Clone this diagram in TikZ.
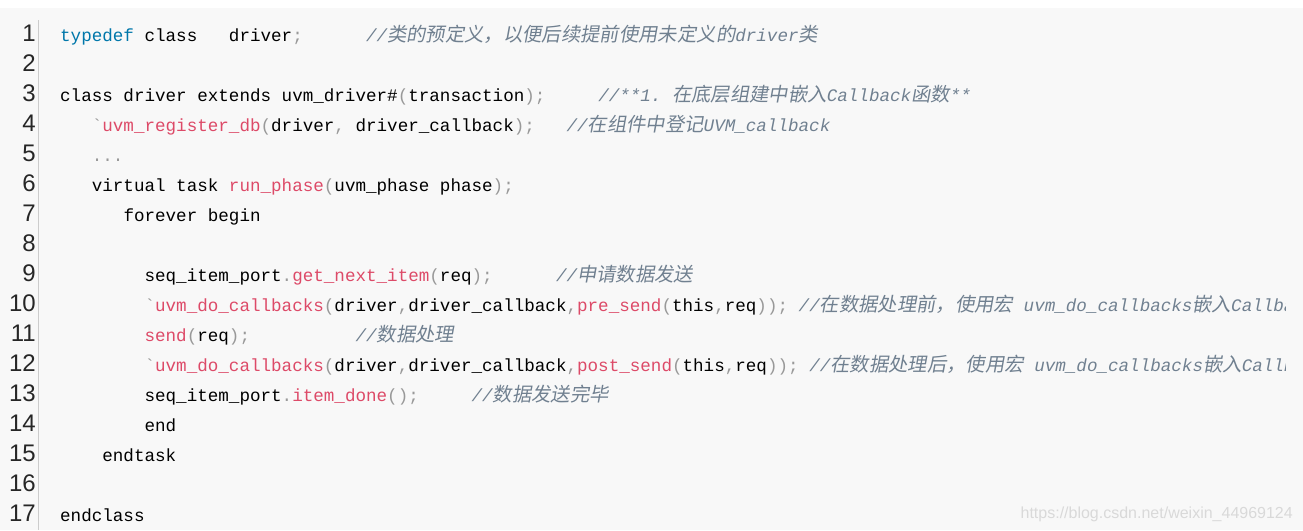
\documentclass[tikz,border=0pt]{standalone}
\usepackage{fontspec}
\setmainfont{Liberation Sans}
\setmonofont{Liberation Mono}
\newfontfamily\cjkfont{Noto Sans CJK SC}[FakeSlant=0.18,Scale=1.1]
\definecolor{kw}{HTML}{0077AA}
\definecolor{fn}{HTML}{DD4A68}
\definecolor{pu}{HTML}{999999}
\definecolor{cm}{HTML}{708090}
\definecolor{bg}{HTML}{F8F8F8}
\newcommand\K[1]{\textcolor{kw}{#1}}
\newcommand\F[1]{\textcolor{fn}{#1}}
\newcommand\Pu[1]{\textcolor{pu}{#1}}
\newcommand\J[1]{{\cjkfont #1}}
\newcommand\Cm[1]{{\color{cm}\itshape #1}}
\begin{document}
\begin{tikzpicture}[x=1pt,y=-1pt,
  code/.style={anchor=base west,inner sep=0pt,font=\ttfamily\fontsize{17.58}{20}\selectfont},
  lnum/.style={anchor=base east,inner sep=0pt,text=black!85,font=\fontsize{24}{26}\selectfont}]
\useasboundingbox (0,0) rectangle (1303,530);
\fill[white] (0,0) rectangle (1303,8);
\fill[bg] (0,8) rectangle (1303,530);
\draw[black!20,line width=1pt] (38,20) -- (38,530);
\foreach \n in {1,...,17} { \node[lnum] (n\n) at (36,{41+30*(\n-1)}) {\n}; }
\begin{scope}
\clip (0,8) rectangle (1285,530);
\def\cx#1{60+#1*10.55}
\node[code] (l1) at ({\cx{0}},41) {\K{typedef} class\ \ \ driver\Pu{;}};
\node[code] (c1) at ({\cx{29}},41) {\Cm{//\J{类的预定义，以便后续提前使用未定义的}driver\J{类}}};
\node[code] (l3) at ({\cx{0}},101) {class driver extends uvm\_driver\#\Pu{(}transaction\Pu{);}};
\node[code] (c3) at ({\cx{51}},101) {\Cm{//**1. \J{在底层组建中嵌入}Callback\J{函数}**}};
\node[code] (l4) at ({\cx{3}},131) {\Pu{\textasciigrave}\F{uvm\_register\_db}\Pu{(}driver\Pu{,} driver\_callback\Pu{);}};
\node[code] (c4) at ({\cx{48}},131) {\Cm{//\J{在组件中登记}UVM\_callback}};
\node[code] (l5) at ({\cx{3}},161) {\Pu{...}};
\node[code] (l6) at ({\cx{3}},191) {virtual task \F{run\_phase}\Pu{(}uvm\_phase phase\Pu{);}};
\node[code] (l7) at ({\cx{6}},221) {forever begin};
\node[code] (l9) at ({\cx{8}},281) {seq\_item\_port\Pu{.}\F{get\_next\_item}\Pu{(}req\Pu{);}};
\node[code] (c9) at ({\cx{47}},281) {\Cm{//\J{申请数据发送}}};
\node[code] (l10) at ({\cx{8}},311) {\Pu{\textasciigrave}\F{uvm\_do\_callbacks}\Pu{(}driver\Pu{,}driver\_callback\Pu{,}\F{pre\_send}\Pu{(}this\Pu{,}req\Pu{));}};
\node[code] (c10) at ({\cx{70}},311) {\Cm{//\J{在数据处理前，使用宏} uvm\_do\_callbacks\J{嵌入}Callback\J{函数}}};
\node[code] (l11) at ({\cx{8}},341) {\F{send}\Pu{(}req\Pu{);}};
\node[code] (c11) at ({\cx{28}},341) {\Cm{//\J{数据处理}}};
\node[code] (l12) at ({\cx{8}},371) {\Pu{\textasciigrave}\F{uvm\_do\_callbacks}\Pu{(}driver\Pu{,}driver\_callback\Pu{,}\F{post\_send}\Pu{(}this\Pu{,}req\Pu{));}};
\node[code] (c12) at ({\cx{71}},371) {\Cm{//\J{在数据处理后，使用宏} uvm\_do\_callbacks\J{嵌入}Callback\J{函数}}};
\node[code] (l13) at ({\cx{8}},401) {seq\_item\_port\Pu{.}\F{item\_done}\Pu{();}};
\node[code] (c13) at ({\cx{39}},401) {\Cm{//\J{数据发送完毕}}};
\node[code] (l14) at ({\cx{8}},431) {end};
\node[code] (l15) at ({\cx{4}},461) {endtask};
\node[code] (l17) at ({\cx{0}},521) {endclass};
\end{scope}
\node[anchor=base east,inner sep=0pt,text=black!15,font=\fontsize{16}{18}\selectfont] (wm) at (1293,518) {https://blog.csdn.net/weixin\_44969124};
\end{tikzpicture}
\end{document}
